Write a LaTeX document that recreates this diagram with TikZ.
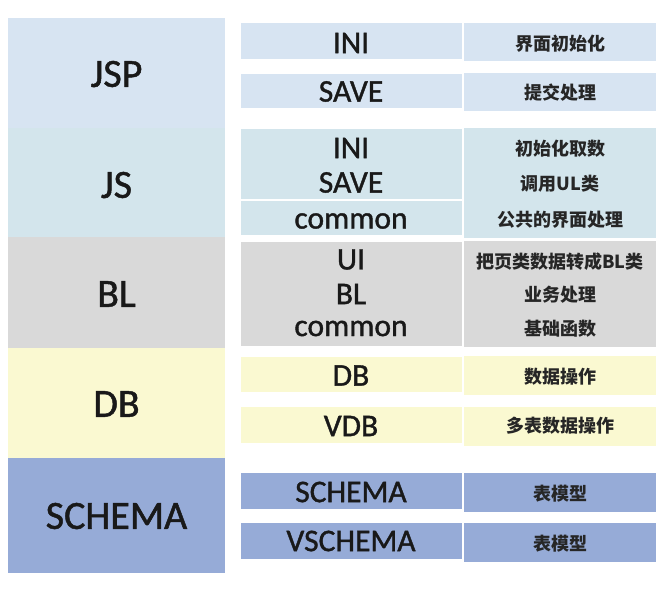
\documentclass[tikz,border=0pt]{standalone}
\usepackage{fontspec}
\setmainfont{Carlito}
\newfontfamily\semib{Carlito}[FakeBold=1.2]
\newfontfamily\cjk{Noto Sans CJK SC}
\definecolor{cJSP}{RGB}{215,228,242}
\definecolor{cJS}{RGB}{211,229,236}
\definecolor{cBL}{RGB}{217,217,217}
\definecolor{cDB}{RGB}{250,249,209}
\definecolor{cSC}{RGB}{150,171,215}
\begin{document}
\begin{tikzpicture}[x=1pt,y=-1pt,
  cellbox/.style={draw=none,inner sep=0pt,outer sep=0pt,anchor=north west},
  big/.style={inner sep=0pt,font=\semib\fontsize{40}{42}\selectfont,text=black!90},
  mid/.style={inner sep=0pt,font=\semib\fontsize{31.5}{33}\selectfont,text=black!90},
  cn/.style={inner sep=0pt,font=\cjk\bfseries\fontsize{18}{20}\selectfont,text=black!85}]
\useasboundingbox[fill=white] (0,0) rectangle (660,611);
% helper: box from (x1,y1) to (x2,y2)
\newcommand{\cellat}[6]{\node[cellbox,fill=#6,minimum width={(#4-#2)*1pt},minimum height={(#5-#3)*1pt}] (#1) at (#2,#3) {};}
% left column
\cellat{lJSP}{8}{18}{225}{128}{cJSP}
\cellat{lJS}{8}{128}{225}{237}{cJS}
\cellat{lBL}{8}{237}{225}{348}{cBL}
\cellat{lDB}{8}{348}{225}{458}{cDB}
\cellat{lSC}{8}{458}{225}{573}{cSC}
\node[big] (tJSP) at (116.5,74) {JSP};
\node[big] (tJS) at (116.5,185) {JS};
\node[big] (tBL) at (116.5,294) {BL};
\node[big] (tDB) at (116.5,404) {DB};
\node[big] (tSC) at (116.5,516) {SCHEMA};
% middle column
\cellat{mINI}{241}{23}{462}{59}{cJSP}
\cellat{mSAVE}{241}{74}{462}{108}{cJSP}
\cellat{mJS}{241}{129}{462}{199}{cJS}
\cellat{mJSc}{241}{201}{462}{235}{cJS}
\cellat{mBL}{241}{242}{462}{346}{cBL}
\cellat{mDB}{241}{357}{462}{392}{cDB}
\cellat{mVDB}{241}{407}{462}{443}{cDB}
\cellat{mSC}{241}{473}{462}{509}{cSC}
\cellat{mVSC}{241}{523}{462}{559}{cSC}
% right column
\cellat{rINI}{464}{23}{656}{61}{cJSP}
\cellat{rSAVE}{464}{73}{656}{111}{cJSP}
\cellat{rJS}{464}{128}{656}{238}{cJS}
\cellat{rBL}{464}{241}{656}{347}{cBL}
\cellat{rDB}{464}{356}{656}{395}{cDB}
\cellat{rVDB}{464}{407}{656}{446}{cDB}
\cellat{rSC}{464}{473}{656}{512}{cSC}
\cellat{rVSC}{464}{523}{656}{562}{cSC}
% middle texts
\node[mid] (t1) at (351,43) {INI};
\node[mid] (t2) at (351,91.5) {SAVE};
\node[mid] (t3) at (351,148) {INI};
\node[mid] (t4) at (351,182.5) {SAVE};
\node[mid] (t5) at (351,221) {common};
\node[mid] (t6) at (351,259.5) {UI};
\node[mid] (t7) at (351,294) {BL};
\node[mid] (t8) at (351,328.5) {common};
\node[mid] (t9) at (351,375.5) {DB};
\node[mid] (t10) at (351,426) {VDB};
\node[mid] (t11) at (351,492) {SCHEMA};
\node[mid] (t12) at (351,541) {VSCHEMA};
% right texts
\node[cn] (c1) at (560,43.5) {界面初始化};
\node[cn] (c2) at (560,92.5) {提交处理};
\node[cn] (c3) at (560,149) {初始化取数};
\node[cn] (c4) at (560,184) {调用UL类};
\node[cn] (c5) at (560,220) {公共的界面处理};
\node[cn] (c6) at (560,262) {把页类数据转成BL类};
\node[cn] (c7) at (560,295) {业务处理};
\node[cn] (c8) at (560,329) {基础函数};
\node[cn] (c9) at (560,376.5) {数据操作};
\node[cn] (c10) at (560,425.5) {多表数据操作};
\node[cn] (c11) at (560,494) {表模型};
\node[cn] (c12) at (560,544) {表模型};
\end{tikzpicture}
\end{document}
